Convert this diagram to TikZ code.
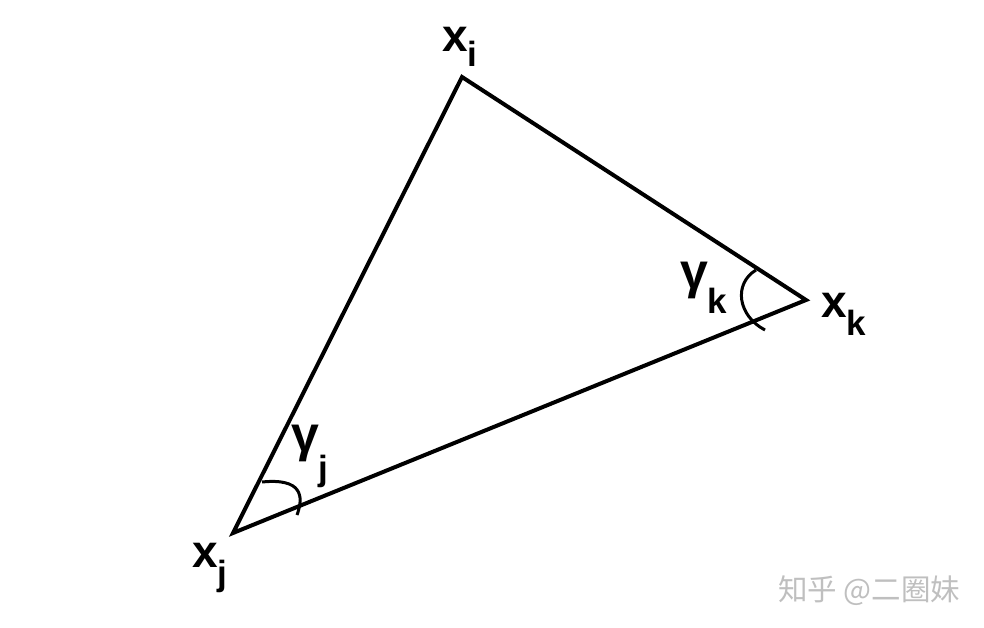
\documentclass[tikz,border=0pt]{standalone}
\usepackage{fontspec}
\setmainfont{Liberation Sans}
\newfontfamily\cjkfont{Noto Sans CJK SC}
\usetikzlibrary{positioning}
\tikzstyle{edge}=[draw,line width=4pt,line join=miter]
\tikzstyle{anglearc}=[draw,line width=3pt]
\tikzstyle{vlabel}=[font=\fontsize{46}{46}\selectfont\bfseries,inner sep=0pt,anchor=base west]
\tikzstyle{glabel}=[font=\fontsize{50}{50}\selectfont\bfseries,inner sep=0pt,anchor=base west]
\tikzstyle{watermark}=[font=\cjkfont\fontsize{29.5}{29.5}\selectfont,text=black!25,inner sep=0pt,anchor=base west]
\newcommand{\sublabel}[3][18pt]{#2\raisebox{-#1}{\fontsize{35}{35}\selectfont #3}}

\begin{document}
\begin{tikzpicture}[x=1pt,y=-1pt]
    \useasboundingbox (0,0) rectangle (984,628);
    % vertices of the triangle
    \coordinate (xi) at (462,77);
    \coordinate (xj) at (233,533);
    \coordinate (xk) at (806,300);
    \path[edge] (xi) -- (xk) -- (xj) -- cycle;
    % angle marks
    \path[anglearc] (262,482) .. controls (302,478) and (304,496) .. (297,515);
    \path[anglearc] (756,270) .. controls (733,284) and (738,316) .. (765,330);

    \node[vlabel] (lxi) at (442,52) {\sublabel[15pt]{x}{i}};
    \node[vlabel] (lxj) at (192,567) {\sublabel{x}{j}};
    \node[vlabel] (lxk) at (821,317) {\sublabel{x}{k}};
    \node[glabel] (lgj) at (291,451) {\sublabel[29pt]{γ\kern-1pt}{j}};
    \node[glabel] (lgk) at (680,288) {\sublabel[25pt]{γ\kern-1pt}{k}};

    \node[watermark] (wm) at (778,600) {知乎 @二圈妹};
\end{tikzpicture}
\end{document}
